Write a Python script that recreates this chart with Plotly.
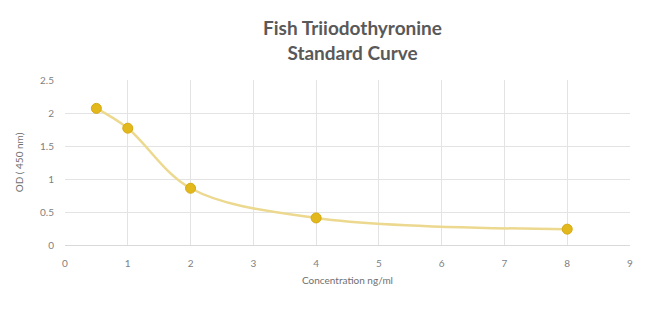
import plotly.graph_objects as go

conc = [0.5, 1, 2, 4, 8]
od = [2.07, 1.77, 0.86, 0.41, 0.24]
x_ticks = [0, 1, 2, 3, 4, 5, 6, 7, 8, 9]
y_ticks = [0, 0.5, 1, 1.5, 2, 2.5]
y_tick_text = ["0", "0.5", "1", "1.5", "2", "2.5"]
title_text = "<b>Fish Triiodothyronine<br>Standard Curve</b>"

fig = go.Figure()
fig.add_trace(go.Scatter(
    x=conc, y=od, mode="lines+markers",
    line=dict(shape="spline", smoothing=1.0, color="#ecd98f", width=2.5),
    marker=dict(size=10, color="#e3b81c", line=dict(color="#d6a910", width=1)),
    showlegend=False,
))
fig.add_annotation(
    text=title_text, xref="paper", yref="paper", x=0.485, y=1,
    xanchor="center", yanchor="bottom", yshift=14, xshift=13, showarrow=False,
    font=dict(family="Lato, Open Sans, sans-serif", size=19, color="#595959"),
)
fig.update_layout(
    width=650, height=309,
    margin=dict(l=65, r=20, t=80, b=64),
    paper_bgcolor="white", plot_bgcolor="white",
    font=dict(family="Lato, Open Sans, sans-serif", color="#7f7f7f", size=10),
    xaxis=dict(range=[0, 9], tickvals=x_ticks, ticktext=[str(v) for v in x_ticks],
               showgrid=True, gridcolor="#e3e3e3", zeroline=False,
               showline=True, linecolor="#d9d9d9",
               ticks="outside", ticklen=9, tickcolor="rgba(0,0,0,0)",
               title=dict(text="Concentration ng/ml", font=dict(size=10, color="#6f6f6f"), standoff=8)),
    yaxis=dict(range=[0, 2.5], tickvals=y_ticks, ticktext=y_tick_text,
               showgrid=True, gridcolor="#e3e3e3", zeroline=False,
               showline=False,
               ticks="outside", ticklen=8, tickcolor="rgba(0,0,0,0)",
               title=dict(text="OD ( 450 nm)", font=dict(size=10, color="#6f6f6f"), standoff=14)),
)
fig.write_html("out.html")
